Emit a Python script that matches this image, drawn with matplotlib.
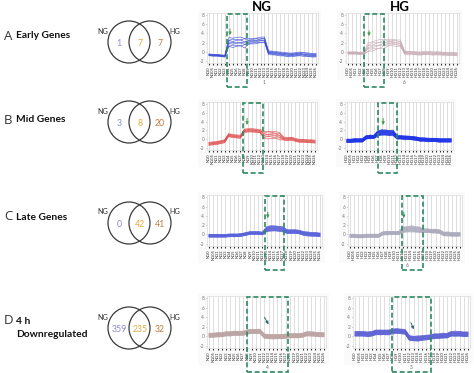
import matplotlib
matplotlib.use("Agg")
import matplotlib.pyplot as plt
import matplotlib.transforms as mtransforms
from matplotlib.patches import Circle, Rectangle
import numpy as np

W, H = 474, 373
plt.rcParams["font.family"] = ["Lato", "DejaVu Sans"]

# ---- data -------------------------------------------------------------
TIME_POINTS = ["0", "05", "1", "2", "3", "4", "5", "6", "7", "8", "9", "10", "11", "12",
               "13", "14", "15", "16", "17", "18", "19", "20", "21", "22", "23", "24", "25", "26"]
Y_TICKS = [-2, 0, 2, 4, 6, 8]

ROW_LETTERS = ["A", "B", "C", "D"]
ROW_NAMES = ["Early Genes", "Mid Genes", "Late Genes", "4 h\nDownregulated"]

# Venn counts: NG only, shared, HG only
VENN_NG_ONLY = [1, 3, 0, 359]
VENN_SHARED = [7, 8, 42, 235]
VENN_HG_ONLY = [7, 20, 41, 32]

# mean profiles (NG, HG per row)
A_NG = [-0.7, -0.8, -0.8, -0.9, -1.0, 2.0, 2.0, 2.1, 2.1, 2.0, 2.2, 2.3, 2.4, 2.5,
        2.6, -0.2, -0.3, -0.4, -0.5, -0.6, -0.7, -0.7, -0.6, -0.5, -0.6, -0.7, -0.8, -0.8]
A_HG = [-0.3, -0.3, -0.3, -0.4, -0.3, 0.9, 1.2, 1.4, 1.6, 1.8, 2.0, 2.0, 1.9, 1.8,
        -0.2, -0.3, -0.3, -0.4, -0.4, -0.3, -0.3, -0.4, -0.4, -0.4, -0.5, -0.5, -0.5, -0.6]
B_NG = [-1.1, -1.0, -0.9, -0.7, -0.5, 0.9, 0.7, 0.6, 0.5, 1.9, 2.0, 2.0, 1.9, 1.8,
        0.9, 1.0, 1.0, 0.9, 0.7, 0.1, 0.0, 0.1, -0.2, -0.4, -0.4, -0.5, -0.5, -0.6]
B_HG = [-0.4, -0.4, -0.3, -0.3, -0.3, 0.4, 0.5, 0.5, 1.3, 1.5, 1.5, 1.4, 1.4, 0.4,
        0.4, 0.3, 0.3, 0.2, 0.1, -0.1, -0.1, -0.2, -0.2, -0.2, -0.3, -0.3, -0.3, -0.3]
C_NG = [-0.3, -0.3, -0.3, -0.3, -0.3, -0.2, -0.2, -0.2, -0.1, 0.1, 0.3, 0.3, 0.3, 0.2,
        1.1, 1.3, 1.3, 1.2, 1.1, 0.6, 0.6, 0.6, 0.5, 0.2, 0.1, 0.0, 0.0, -0.1]
C_HG = [-0.3, -0.3, -0.4, -0.4, -0.3, -0.3, -0.3, -0.3, 0.2, 0.3, 0.3, 0.3, 0.3, 1.0,
        1.1, 1.2, 1.1, 1.0, 0.8, 0.8, 0.7, 0.7, 0.6, 0.1, 0.1, 0.0, 0.0, 0.0]
D_NG = [0.2, 0.2, 0.3, 0.3, 0.5, 0.5, 0.6, 0.6, 0.6, 0.9, 1.0, 1.0, 1.0, 0.0,
        -0.1, -0.1, -0.1, -0.1, 0.0, 0.1, 0.1, 0.1, 0.2, 0.5, 0.5, 0.4, 0.3, 0.3]
D_HG = [0.5, 0.5, 0.5, 0.4, 0.5, 0.8, 0.8, 0.8, 0.8, 1.0, 1.1, 1.0, 0.9, -0.4,
        -0.5, -0.5, -0.4, -0.3, -0.2, 0.0, 0.0, 0.1, 0.1, 0.5, 0.5, 0.5, 0.4, 0.4]

# spread of the gene lines around the profile
A_NG_SPREAD = [0.2] * 5 + [1.0] * 5 + [0.6] * 5 + [0.4] * 13
A_HG_SPREAD = [0.25] * 5 + [1.0] * 5 + [0.7] * 4 + [0.35] * 14
B_NG_SPREAD = [0.35] * 9 + [0.4] * 5 + [0.8] * 5 + [0.35] * 9
B_HG_SPREAD = [0.4] * 8 + [0.6] * 5 + [0.4] * 15
C_NG_SPREAD = [0.3] * 14 + [0.55] * 5 + [0.4] * 9
C_HG_SPREAD = [0.35] * 13 + [0.6] * 5 + [0.4] * 10
D_NG_SPREAD = [0.45] * 28
D_HG_SPREAD = [0.5] * 28

# line-to-line shape change along time (one small step pattern, read by eye)
WIGGLE = [0.0, 0.1, -0.1, 0.1, 0.0, 0.2, -0.1, 0.1, 0.2, -0.2, 0.1, 0.0, -0.1, 0.2,
          0.1, -0.2, 0.0, 0.1, -0.1, 0.2, 0.0, -0.1, 0.1, 0.0, -0.2, 0.1, 0.0, 0.1]
FEW_LINES = [-1.0, -0.65, -0.3, 0.0, 0.3, 0.65, 1.0]
FEW_TWIST = [1.0, -1.0, 0.5, -0.5, 1.0, -1.0, 0.5]
MANY_LINES = [-1.0, -0.9, -0.8, -0.7, -0.6, -0.5, -0.4, -0.3, -0.2, -0.1, 0.0,
              0.1, 0.2, 0.3, 0.4, 0.5, 0.6, 0.7, 0.8, 0.9, 1.0]
MANY_TWIST = [1.0, -1.0, 0.5, -0.5, 1.0, -1.0, 0.5, -0.5, 1.0, -1.0, 0.0,
              1.0, -1.0, 0.5, -0.5, 1.0, -1.0, 0.5, -0.5, 1.0, -1.0]

# highlighted window (x index range) and arrow (x0, y0, x1, y1) per panel
A_NG_BOX, A_HG_BOX = (4.5, 9.6), (4.0, 8.9)
B_NG_BOX, B_HG_BOX = (8.7, 13.8), (8.1, 13.0)
C_NG_BOX, C_HG_BOX = (13.6, 18.3), (12.8, 17.9)
D_NG_BOX, D_HG_BOX = (8.9, 18.6), (8.8, 18.2)
A_NG_ARROW, A_HG_ARROW = (5.3, 5.6, 5.3, 3.0), (5.2, 5.2, 5.2, 2.8)
B_NG_ARROW, B_HG_ARROW = (9.7, 5.4, 9.7, 2.6), (9.4, 5.4, 9.4, 2.6)
C_NG_ARROW, C_HG_ARROW = (14.3, 5.4, 14.3, 2.9), (13.2, 5.4, 13.2, 2.9)
D_NG_ARROW, D_HG_ARROW = (12.7, 4.5, 14.3, 2.0), (13.1, 3.4, 14.3, 0.9)
CLUSTER_NG = ["1", "", "", "4"]
CLUSTER_HG = ["6", "", "6", "3"]

# ---- layout -----------------------------------------------------------
PANELS = [
    # row, side, profile, spread, (lines, twist), color, alpha, box, arrow, arrow color, rect px
    (0, "NG", A_NG, A_NG_SPREAD, (FEW_LINES, FEW_TWIST), "#3447d4", 0.8, A_NG_BOX, A_NG_ARROW, "#4aa04a", (207, 13, 318, 63)),
    (0, "HG", A_HG, A_HG_SPREAD, (FEW_LINES, FEW_TWIST), "#c4a6b0", 0.8, A_HG_BOX, A_HG_ARROW, "#4aa04a", (346, 13, 459, 63)),
    (1, "NG", B_NG, B_NG_SPREAD, (FEW_LINES, FEW_TWIST), "#e04444", 0.8, B_NG_BOX, B_NG_ARROW, "#4aa04a", (207, 102, 317, 150)),
    (1, "HG", B_HG, B_HG_SPREAD, (MANY_LINES, MANY_TWIST), "#1e34e6", 0.7, B_HG_BOX, B_HG_ARROW, "#4aa04a", (345, 102, 453, 150)),
    (2, "NG", C_NG, C_NG_SPREAD, (MANY_LINES, MANY_TWIST), "#5a64da", 0.7, C_NG_BOX, C_NG_ARROW, "#3a9a5a", (207, 195, 322, 246)),
    (2, "HG", C_HG, C_HG_SPREAD, (MANY_LINES, MANY_TWIST), "#acacbe", 0.7, C_HG_BOX, C_HG_ARROW, "#3a9a5a", (348, 195, 462, 246)),
    (3, "NG", D_NG, D_NG_SPREAD, (MANY_LINES, MANY_TWIST), "#bda4a4", 0.75, D_NG_BOX, D_NG_ARROW, "#2f6b6b", (207, 296, 326, 348)),
    (3, "HG", D_HG, D_HG_SPREAD, (MANY_LINES, MANY_TWIST), "#5a60d4", 0.75, D_HG_BOX, D_HG_ARROW, "#2f6b6b", (353, 296, 470, 348)),
]
ROW_Y = [42, 122, 223, 328]
NAME_Y = [36, 120, 217, 328]
BOX_COLOR = "#2e8a62"


def px_axes(fig, left, top, right, bottom):
    return fig.add_axes([left / W, 1 - bottom / H, (right - left) / W, (bottom - top) / H])


fig = plt.figure(figsize=(W / 100, H / 100), dpi=100)

# overlay for texts and Venn diagrams, in pixel coordinates
over = fig.add_axes([0, 0, 1, 1])
over.set_xlim(0, W)
over.set_ylim(H, 0)
over.axis("off")

for i, y in enumerate(ROW_Y):
    over.text(4, NAME_Y[i] - (7 if i == 3 else 0), ROW_LETTERS[i], fontsize=9.5, va="center",
              ha="left", color="#333333", family=["Open Sans", "DejaVu Sans"])
    over.text(16, NAME_Y[i], ROW_NAMES[i], fontsize=7.4, fontweight="bold", va="center",
              ha="left", color="#111111", linespacing=1.55)
    over.add_patch(Circle((129, y), 21, fill=False, ec="#3a3a3a", lw=0.9))
    over.add_patch(Circle((150, y), 21, fill=False, ec="#3a3a3a", lw=0.9))
    over.text(103, y - 11, "NG", fontsize=5.2, ha="center", va="center", color="#333333")
    over.text(175, y - 11, "HG", fontsize=5.2, ha="center", va="center", color="#333333")
    over.text(119, y + 1.5, str(VENN_NG_ONLY[i]), fontsize=6.3, ha="center", va="center", color="#8c8cd8")
    over.text(140, y + 1.5, str(VENN_SHARED[i]), fontsize=6.3, ha="center", va="center", color="#e2ac3c")
    over.text(160, y + 1.5, str(VENN_HG_ONLY[i]), fontsize=6.3, ha="center", va="center", color="#c47a3c")

over.text(262, 7, "NG", fontsize=9.5, fontweight="bold", ha="center", va="center")
over.text(400, 7, "HG", fontsize=9.5, fontweight="bold", ha="center", va="center")

x = np.arange(len(TIME_POINTS))
wiggle = np.array(WIGGLE)
for row, side, profile, spread, (offsets, twists), color, alpha, box, arrow, acolor, rect in PANELS:
    # faint frame of the embedded chart
    l, t, r, b = rect
    over.add_patch(Rectangle((l - 9, t - 3), r - l + 12, b - t + 20, fc="#fafafa", ec="none", zorder=0))

    ax = px_axes(fig, *rect)
    base = np.array(profile)
    sp = np.array(spread)
    for off, tw in zip(offsets, twists):
        ax.plot(x, base + sp * (off + tw * wiggle), color=color, lw=0.5, alpha=alpha)
    ax.set_xlim(-0.5, len(TIME_POINTS) - 0.5)
    ax.set_ylim(-2.5, 8.5)
    ax.set_xticks(x)
    ax.set_xticklabels([side + tp for tp in TIME_POINTS], rotation=90, fontsize=3.0, color="#444444")
    ax.set_yticks(Y_TICKS)
    ax.set_yticklabels([str(v) for v in Y_TICKS], fontsize=3.4, color="#444444")
    ax.tick_params(axis="x", length=1.5, width=0.8, pad=1, colors="#333333")
    ax.tick_params(axis="y", length=1.0, width=0.4, pad=1, colors="#777777")
    ax.grid(axis="x", color="#d2d2d2", lw=0.5)
    for s in ax.spines.values():
        s.set_color("#e0e0e0")
        s.set_linewidth(0.6)
    ax.set_facecolor("white")

    trans = mtransforms.blended_transform_factory(ax.transData, ax.transAxes)
    ax.add_patch(Rectangle((box[0], -0.47), box[1] - box[0], 1.45, transform=trans, fill=False,
                           ec=BOX_COLOR, lw=1.2, ls=(0, (3, 1.6)), clip_on=False, zorder=5))
    ax.annotate("", xy=(arrow[2], arrow[3]), xytext=(arrow[0], arrow[1]),
                arrowprops=dict(arrowstyle="-|>", color=acolor, lw=0.7, mutation_scale=4))
    label = (CLUSTER_NG if side == "NG" else CLUSTER_HG)[row]
    if label:
        ax.text(0.5 * (box[0] + box[1]) if row == 3 else len(TIME_POINTS) / 2, -0.38, label,
                transform=trans, fontsize=3.5, color="#666666", ha="center", va="center")

fig.savefig("out.png", dpi=100)
